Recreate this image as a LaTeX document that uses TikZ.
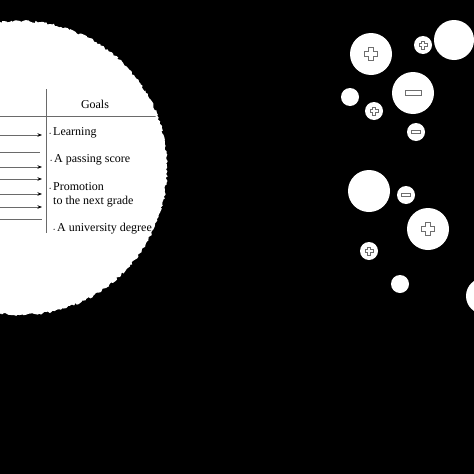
\documentclass[tikz,border=0pt]{standalone}
\usepackage{fontspec}
\setmainfont{Liberation Serif}
\usetikzlibrary{arrows.meta,decorations.pathmorphing}
\definecolor{gline}{HTML}{6A6A6A}
\definecolor{gsign}{HTML}{6E6E6E}
\tikzset{bigbub/.style={circle, fill=white, minimum size=42pt, inner sep=0pt}}
\tikzset{smallbub/.style={circle, fill=white, minimum size=18pt, inner sep=0pt}}
\tikzset{goaltext/.style={anchor=base west, font=\fontsize{12}{13.5}\selectfont, inner sep=0pt, align=left}}
\tikzset{garrow/.style={-{Stealth[length=4.5pt,width=3.5pt,color=black]}, draw=gline, line width=0.7pt}}
\tikzset{gplain/.style={draw=gline, line width=0.7pt}}
\tikzset{plusmark/.pic={\draw[gsign, line width=0.7pt, fill=white] (-2.3,-6.5) -- (2.3,-6.5) -- (2.3,-2.3) -- (6.5,-2.3) -- (6.5,2.3) -- (2.3,2.3) -- (2.3,6.5) -- (-2.3,6.5) -- (-2.3,2.3) -- (-6.5,2.3) -- (-6.5,-2.3) -- (-2.3,-2.3) -- cycle;}}
\tikzset{minusmark/.pic={\draw[gsign, line width=0.7pt, fill=white] (-8,-2.3) rectangle (8,2.3);}}
\newcommand{\gbul}{\llap{{\tiny\textbullet}\,}}

\begin{document}
\begin{tikzpicture}[x=1pt, y=-1pt]
  \useasboundingbox (0,0) rectangle (474,474);
  \fill[black] (0,0) rectangle (474,474);

  % the table inside the rough disc
  \fill[white, decorate, decoration={random steps, segment length=2pt, amplitude=1.2pt}] (20,168) circle (147);
  \begin{scope}
    \clip (20,168) circle (145);
    \draw[gplain] (46.5,89) -- (46.5,233);
    \draw[gplain] (0,116) -- (170,116);

    \node[font=\fontsize{12}{13.5}\selectfont, anchor=base, inner sep=0pt] (goals) at (95,108.5) {Goals};
    \node[goaltext] (g1) at (53,135) {\gbul Learning};
    \node[goaltext] (g2) at (54,162.5) {\gbul A passing score};
    \node[goaltext] (g3) at (53,204) {\gbul Promotion\\to the next grade};
    \node[goaltext] (g4) at (57,231.5) {\gbul A university degree};

    \coordinate (a1s) at (0,135);   \coordinate (a1e) at (42,135);
    \coordinate (l1s) at (0,152);   \coordinate (l1e) at (40,152);
    \coordinate (a2s) at (0,167);   \coordinate (a2e) at (42,167);
    \coordinate (a3s) at (0,179);   \coordinate (a3e) at (42,179);
    \coordinate (a4s) at (0,194);   \coordinate (a4e) at (42,194);
    \coordinate (a5s) at (0,207);   \coordinate (a5e) at (42,207);
    \coordinate (l2s) at (0,219);   \coordinate (l2e) at (42,219);

    \draw[garrow] (a1s) -- (a1e);
    \draw[gplain] (l1s) -- (l1e);
    \draw[garrow] (a2s) -- (a2e);
    \draw[garrow] (a3s) -- (a3e);
    \draw[garrow] (a4s) -- (a4e);
    \draw[garrow] (a5s) -- (a5e);
    \draw[gplain] (l2s) -- (l2e);
  \end{scope}

  % bubbles on the right
  \node[bigbub] (p1) at (371,54) {};
  \node[smallbub] (p2) at (423,45) {};
  \node[bigbub, minimum size=40pt] (b1) at (454,40) {};
  \node[bigbub] (m1) at (413,93) {};
  \node[smallbub] (b2) at (350,97) {};
  \node[smallbub] (p3) at (374,111) {};
  \node[smallbub] (m2) at (416,132) {};
  \node[bigbub] (b3) at (369,191) {};
  \node[smallbub] (m3) at (406,195) {};
  \node[bigbub] (p4) at (428,229) {};
  \node[smallbub] (p5) at (369,251) {};
  \node[smallbub] (b4) at (400,284) {};
  \node[bigbub, minimum size=36pt] (b5) at (484,296) {};

  \pic at (p1) {plusmark};
  \pic[scale=0.6] at (p2) {plusmark};
  \pic at (m1) {minusmark};
  \pic[scale=0.6] at (p3) {plusmark};
  \pic[scale=0.6] at (m2) {minusmark};
  \pic[scale=0.6] at (m3) {minusmark};
  \pic at (p4) {plusmark};
  \pic[scale=0.6] at (p5) {plusmark};
\end{tikzpicture}
\end{document}
